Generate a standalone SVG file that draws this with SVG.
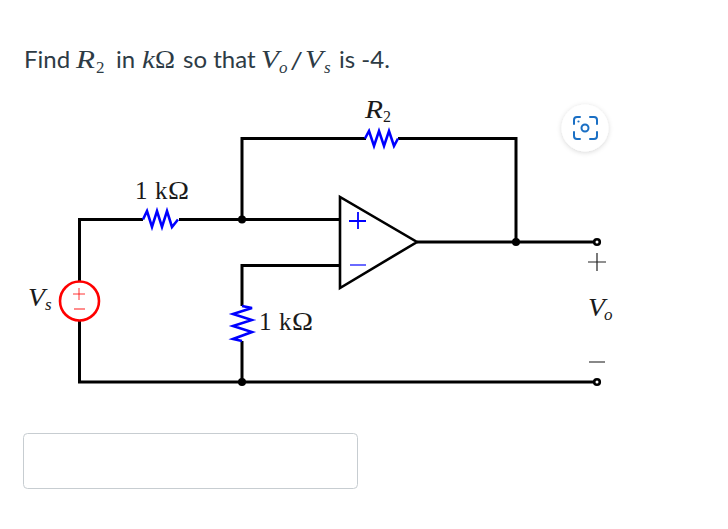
<svg xmlns="http://www.w3.org/2000/svg" width="728" height="529" viewBox="0 0 728 529">
<style>
.w{fill:none;stroke:#000;stroke-width:3;stroke-linejoin:miter}
.r{fill:none;stroke:#00f;stroke-width:2.600;stroke-linejoin:miter}
.q{font-family:Lato,"Open Sans",sans-serif;font-size:24px;fill:#2d3b45}
.m{font-family:"Liberation Serif",serif;fill:#1a1a1a}
.a{fill:#2d3b45}
.i{font-style:italic}
</style>
<defs><filter id="sh" x="-30%" y="-30%" width="160%" height="160%"><feDropShadow dx="0" dy="1" stdDeviation="2.500" flood-color="#000" flood-opacity="0.16"/></filter></defs>
<rect width="728" height="529" fill="#fff"/>
<g id="question">
<text class="q" x="24" y="68">Find</text>
<text class="m i a" x="76" y="68" font-size="26" textLength="19" lengthAdjust="spacingAndGlyphs">R</text><text class="m a" x="96" y="73" font-size="17">2</text>
<text class="q" x="116" y="68">in</text>
<text class="m i a" x="142" y="68" font-size="25" textLength="13" lengthAdjust="spacingAndGlyphs">k</text><text class="m a" x="155" y="68" font-size="25" textLength="20" lengthAdjust="spacingAndGlyphs">Ω</text>
<text class="q" x="183" y="68">so that</text>
<text class="m i a" x="261" y="68" font-size="26" textLength="18" lengthAdjust="spacingAndGlyphs">V</text><text class="m i a" x="279" y="73" font-size="17">o</text>
<text class="m a" x="291" y="70" font-size="28" textLength="11" lengthAdjust="spacingAndGlyphs">/</text>
<text class="m i a" x="305" y="68" font-size="26" textLength="18" lengthAdjust="spacingAndGlyphs">V</text><text class="m i a" x="324" y="73" font-size="17">s</text>
<text class="q" x="339" y="68">is -4.</text>
</g>
<g id="connectors">
<path class="w" d="M242 219.500V138.500H366M398 138.500H516V242"/>
<path class="w" d="M79.500 281V219.500H143M179 219.500H340"/>
<path class="w" d="M79.500 321V382H597"/>
<path class="w" d="M340 265.500H242V306M242 341V382"/>
<path class="w" d="M417 242H597"/>
<circle cx="242" cy="219.500" r="4"/><circle cx="242" cy="382" r="4"/><circle cx="516" cy="242" r="4"/>
</g>
<g id="r2"><path class="r" d="M365 138.500L369 131L374 146L379 131L384 146L389 131L394 146L398 138.500"/>
<text class="m i" x="365" y="118" font-size="25" textLength="18" lengthAdjust="spacingAndGlyphs">R</text><text class="m" x="383" y="122" font-size="16">2</text></g>
<g id="r1"><path class="r" d="M143 219.500L147 211L152 227L157 211L162 227L167 211L172 227L178 219.500"/>
<text class="m" x="135" y="199" font-size="25">1</text><text class="m" x="155" y="199" font-size="25">k</text><text class="m" x="168" y="199" font-size="25" textLength="21" lengthAdjust="spacingAndGlyphs">Ω</text></g>
<g id="r3"><path class="r" d="M242 306L252 308L233 314L252 320L233 326L252 332L233 339L242 341"/>
<text class="m" x="259" y="330" font-size="25">1</text><text class="m" x="279" y="330" font-size="25">k</text><text class="m" x="292" y="330" font-size="25" textLength="21" lengthAdjust="spacingAndGlyphs">Ω</text></g>
<g id="opamp"><path d="M340 197V288L417 242Z" fill="#fff" stroke="#000" stroke-width="2.600" stroke-linejoin="miter"/>
<path d="M349 221H366M358 212V229" stroke="#00f" stroke-width="1.800" fill="none"/>
<path d="M350 265H366" stroke="#5a5aff" stroke-width="1.800" fill="none"/></g>
<g id="vs"><circle cx="79.500" cy="301" r="19.500" fill="#fff" stroke="#f00" stroke-width="2.600"/>
<path d="M73 294H85M79 288V300" stroke="#f00" stroke-width="0.800" fill="none"/>
<path d="M74 309H85" stroke="#f66" stroke-width="1.500" fill="none"/>
<text class="m i" x="28" y="306" font-size="26" textLength="17" lengthAdjust="spacingAndGlyphs">V</text><text class="m i" x="45" y="310" font-size="17">s</text></g>
<g id="vo">
<circle cx="597" cy="242" r="2.800" fill="#fff" stroke="#000" stroke-width="2.600"/>
<circle cx="597" cy="382" r="2.800" fill="#fff" stroke="#000" stroke-width="2.600"/>
<path d="M588 262H606M597 253V271" stroke="#222" stroke-width="1.200" fill="none"/>
<path d="M589 362H605" stroke="#555" stroke-width="1.400" fill="none"/>
<text class="m i" x="588" y="316" font-size="26" textLength="17" lengthAdjust="spacingAndGlyphs">V</text><text class="m i" x="604" y="320" font-size="17">o</text></g>
<g id="icon"><circle cx="585" cy="128" r="23.500" fill="#fff" filter="url(#sh)"/>
<g fill="none" stroke="#1a6fc4" stroke-width="2" stroke-linecap="round">
<path d="M574 124V120Q574 117 577 117H580M590 117H594Q597 117 597 120V124M597 132V136Q597 139 594 139H590M580 139H577Q574 139 574 136V132"/>
<circle cx="585" cy="128" r="3.500"/></g><circle cx="578.500" cy="121.500" r="1.100" fill="#1a6fc4"/></g>
<g id="answer"><rect x="23.500" y="433.500" width="334" height="55" rx="4" fill="#fff" stroke="#c7cdd1" stroke-width="1"/></g>
</svg>
